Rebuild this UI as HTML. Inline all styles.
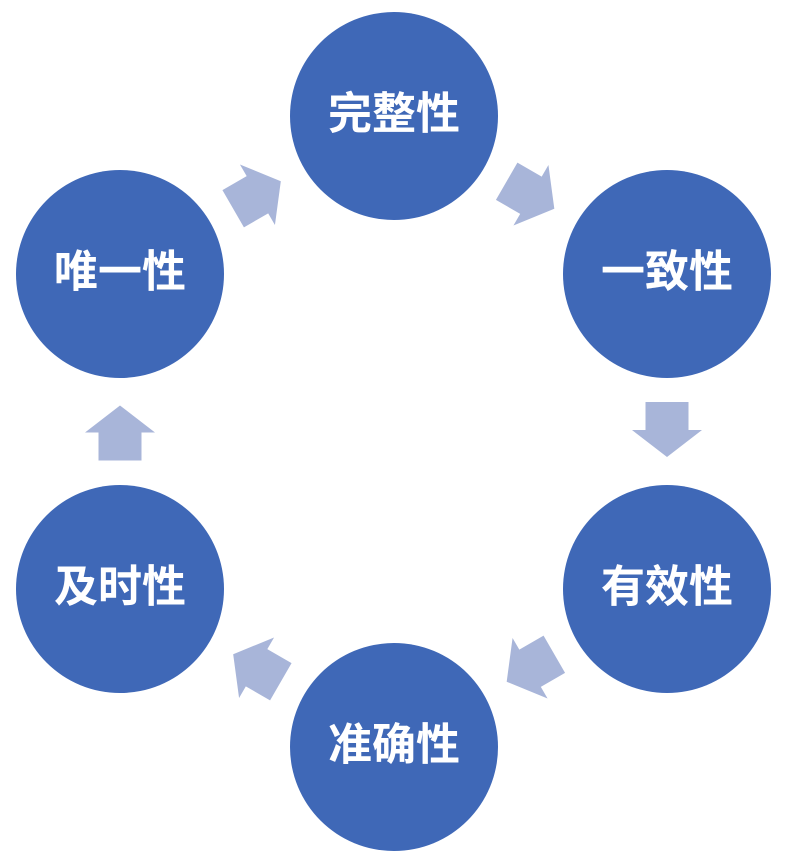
<!DOCTYPE html>
<html>
<head>
<meta charset="utf-8">
<style>
  html, body { margin: 0; padding: 0; background: #ffffff; }
  svg { display: block; }
  text { font-family: "Liberation Sans", "Noto Sans CJK SC", "WenQuanYi Zen Hei", sans-serif; font-weight: bold; font-size: 44px; fill: #ffffff; }
</style>
</head>
<body>
<svg width="787" height="863" viewBox="0 0 787 863" xmlns="http://www.w3.org/2000/svg">
  <defs>
    <polygon id="arr" points="-27.5,-21.5 0.5,-21.5 0.5,-35 27.5,0 0.5,35 0.5,21.5 -27.5,21.5" fill="#A8B5D9"/>
  </defs>
  <!-- arrows -->
  <use href="#arr" transform="translate(257,195) rotate(-30)"/>
  <use href="#arr" transform="translate(530.5,195) rotate(30)"/>
  <use href="#arr" transform="translate(667,429.5) rotate(90)"/>
  <use href="#arr" transform="translate(530.5,668) rotate(150)"/>
  <use href="#arr" transform="translate(257,668) rotate(210)"/>
  <use href="#arr" transform="translate(120,433) rotate(-90)"/>

  <!-- circles -->
  <g fill="#3F68B7">
    <circle cx="394" cy="116" r="104"/>
    <circle cx="667" cy="274" r="104"/>
    <circle cx="667" cy="589" r="104"/>
    <circle cx="394" cy="747" r="104"/>
    <circle cx="120" cy="589" r="104"/>
    <circle cx="120" cy="274" r="104"/>
  </g>

  <!-- labels -->
  <g text-anchor="middle" dominant-baseline="central">
    <text x="394" y="114">完整性</text>
    <text x="667" y="272">一致性</text>
    <text x="667" y="587">有效性</text>
    <text x="394" y="745">准确性</text>
    <text x="120" y="587">及时性</text>
    <text x="120" y="272">唯一性</text>
  </g>
</svg>
</body>
</html>
